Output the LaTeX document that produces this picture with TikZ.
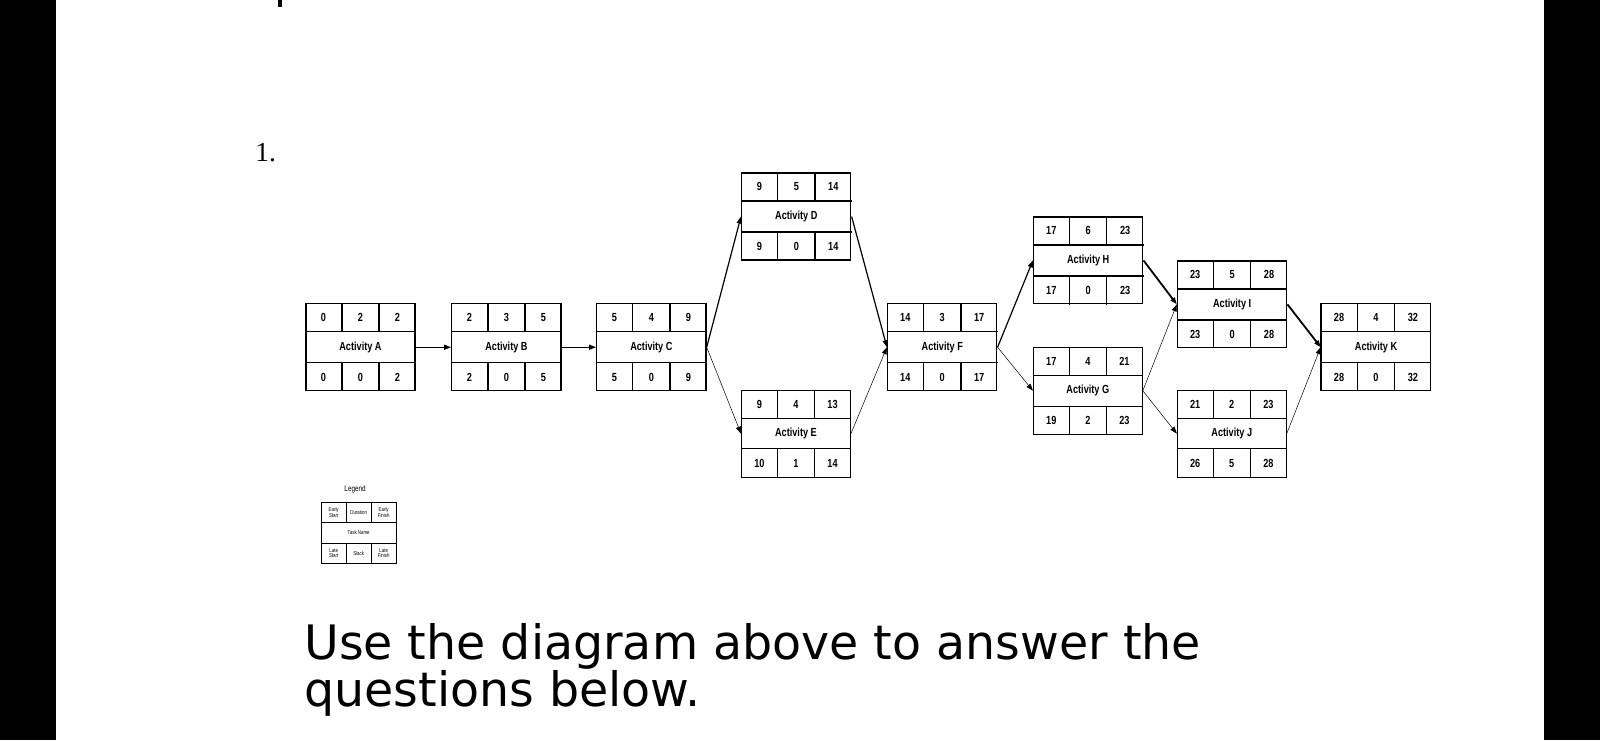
\documentclass[tikz,border=0pt]{standalone}
\usepackage{fontspec}
\setmainfont{Liberation Serif}
\newfontfamily\narrowf[FakeStretch=0.78]{Liberation Sans}
\newfontfamily\dejav{DejaVu Sans}
\usetikzlibrary{arrows.meta}
\tikzset{
  actbox/.style={draw,minimum width=107pt,minimum height=85pt,inner sep=0pt},
  crit/.style={line width=1.4pt},
  noncrit/.style={line width=0.7pt},
  lbl/.style={font=\narrowf\bfseries\fontsize{11.5}{12}\selectfont,inner sep=0pt},
  arr/.style={-{Triangle[length=7pt,width=5pt]}},
}
\newcommand{\actv}[9]{%
  \node[actbox,#9,anchor=north west] (#1) at (#2,#3) {};
  \draw[#9] ([yshift=-28pt]#1.north west) -- ([yshift=-28pt]#1.north east)
            ([yshift=28pt]#1.south west) -- ([yshift=28pt]#1.south east)
            ([xshift=36pt]#1.north west) -- ([xshift=36pt,yshift=-28pt]#1.north west)
            ([xshift=-36pt]#1.north east) -- ([xshift=-36pt,yshift=-28pt]#1.north east)
            ([xshift=36pt]#1.south west) -- ([xshift=36pt,yshift=28pt]#1.south west)
            ([xshift=-36pt]#1.south east) -- ([xshift=-36pt,yshift=28pt]#1.south east);
  \node[lbl] at ([xshift=18pt,yshift=-14pt]#1.north west) {#4};
  \node[lbl] at ([yshift=-14pt]#1.north) {#5};
  \node[lbl] at ([xshift=-18pt,yshift=-14pt]#1.north east) {#6};
  \node[lbl] at (#1.center) {#7};
  \foreach \a/\b/\c in {#8}{
    \node[lbl] at ([xshift=18pt,yshift=14pt]#1.south west) {\a};
    \node[lbl] at ([yshift=14pt]#1.south) {\b};
    \node[lbl] at ([xshift=-18pt,yshift=14pt]#1.south east) {\c};
  }%
}
\begin{document}
\begin{tikzpicture}[scale=1.0204,x=1pt,y=-1pt,every node/.append style={transform shape}]
\useasboundingbox (0,0) rectangle (1568,725.2);
\fill[black] (0,0) rectangle (55,725.2);
\fill[black] (1513,0) rectangle (1568,725.2);
\fill[black] (272,0) rectangle (276,7);
\node[anchor=base west,font=\fontsize{27}{30}\selectfont,inner sep=0pt] (num) at (250,158) {1.};

\actv{A}{299}{297}{0}{2}{2}{Activity A}{0/0/2}{crit}
\actv{B}{442}{297}{2}{3}{5}{Activity B}{2/0/5}{crit}
\actv{C}{584}{297}{5}{4}{9}{Activity C}{5/0/9}{crit}
\actv{D}{726}{169}{9}{5}{14}{Activity D}{9/0/14}{crit}
\actv{E}{726}{382}{9}{4}{13}{Activity E}{10/1/14}{noncrit}
\actv{F}{869}{297}{14}{3}{17}{Activity F}{14/0/17}{crit}
\actv{H}{1012}{212}{17}{6}{23}{Activity H}{17/0/23}{crit}
\actv{G}{1012}{340}{17}{4}{21}{Activity G}{19/2/23}{noncrit}
\actv{I}{1153}{255}{23}{5}{28}{Activity I}{23/0/28}{crit}
\actv{J}{1153}{382}{21}{2}{23}{Activity J}{26/5/28}{noncrit}
\actv{K}{1294}{297}{28}{4}{32}{Activity K}{28/0/32}{crit}

\draw[arr,line width=1.4pt] (A.east) -- (B.west);
\draw[arr,line width=1.4pt] (B.east) -- (C.west);
\draw[arr,line width=1.2pt] (C.east) -- (D.west);
\draw[arr,line width=0.5pt] (C.east) -- (E.west);
\draw[arr,line width=1.2pt] (D.east) -- (F.west);
\draw[arr,line width=0.5pt] (E.east) -- (F.west);
\draw[arr,line width=1.2pt] (F.east) -- (H.west);
\draw[arr,line width=0.5pt] (F.east) -- (G.west);
\draw[arr,line width=1.8pt] (H.east) -- (I.west);
\draw[arr,line width=0.5pt] (G.east) -- (I.west);
\draw[arr,line width=0.5pt] (G.east) -- (J.west);
\draw[arr,line width=1.8pt] (I.east) -- (K.west);
\draw[arr,line width=0.5pt] (J.east) -- (K.west);

% legend
\node[font=\narrowf\fontsize{8}{9}\selectfont] (leg) at (348,480) {Legend};
\node[draw,line width=0.5pt,minimum width=73pt,minimum height=60pt,anchor=north west,inner sep=0pt] (L) at (315,492) {};
\draw[line width=0.5pt] (315,512) -- (388,512) (315,532) -- (388,532)
  (339,492) -- (339,512) (364,492) -- (364,512)
  (339,532) -- (339,552) (364,532) -- (364,552);
\tikzset{tiny/.style={font=\narrowf\fontsize{5.5}{5.5}\selectfont,align=center,inner sep=0pt}}
\node[tiny] at (327,502) {Early\\Start};
\node[tiny] at (351.5,502) {Duration};
\node[tiny] at (376,502) {Early\\Finish};
\node[tiny] at (351.5,522) {Task Name};
\node[tiny] at (327,542) {Late\\Start};
\node[tiny] at (351.5,542) {Slack};
\node[tiny] at (376,542) {Late\\Finish};

\node[anchor=base west,align=left,font=\dejav\fontsize{46.5}{41}\selectfont,inner sep=0pt] (q) at (298,692) {Use the diagram above to answer the\\questions below.};
\end{tikzpicture}
\end{document}
